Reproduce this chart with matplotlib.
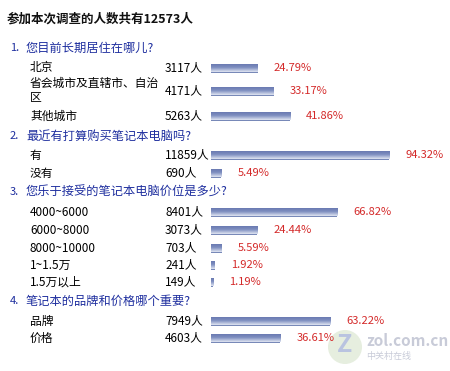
import numpy as np
import matplotlib
matplotlib.use("Agg")
import matplotlib.pyplot as plt
from matplotlib.patches import Circle

plt.rcParams['font.family'] = ['Noto Sans CJK SC', 'DejaVu Sans']

title = "参加本次调查的人数共有12573人"
questions = ["您目前长期居住在哪儿?", "最近有打算购买笔记本电脑吗?",
             "您乐于接受的笔记本电脑价位是多少?", "笔记本的品牌和价格哪个重要?"]
options = [["北京", "省会城市及直辖市、自治\n区", "其他城市"],
           ["有", "没有"],
           ["4000~6000", "6000~8000", "8000~10000", "1~1.5万", "1.5万以上"],
           ["品牌", "价格"]]
counts = [[3117, 4171, 5263], [11859, 690], [8401, 3073, 703, 241, 149], [7949, 4603]]
percents = [[24.79, 33.17, 41.86], [94.32, 5.49], [66.82, 24.44, 5.59, 1.92, 1.19], [63.22, 36.61]]

# layout in pixels (y from top)
q_y = [48, 136, 192, 301]
row_y = [[68, 91, 116], [155, 173], [212, 230, 248, 265, 282], [321, 338]]
bar_x0 = 211
px_per_pct = 1.89

fig = plt.figure(figsize=(4.5, 3.71), dpi=100)
ax = fig.add_axes([0, 0, 1, 1])
ax.set_xlim(0, 450)
ax.set_ylim(371, 0)
ax.axis('off')

# watermark (behind everything)
ax.add_patch(Circle((345, 347), 17, facecolor='#e6eedf', edgecolor='none', zorder=0))
ax.text(345, 345, "Z", fontsize=18, color='#b9c3e0', fontweight='bold',
        ha='center', va='center', zorder=0)
ax.text(366, 341, "zol.com.cn", fontsize=11, color='#c8cbd8', fontweight='bold', va='center', zorder=0)
ax.text(366, 356, "中关村在线", fontsize=6.5, color='#c8cbd8', va='center', zorder=0)

ax.text(7, 19, title, fontsize=9, fontweight='bold', va='center', color='#111111')

grad = np.linspace(0, 1, 50).reshape(-1, 1)
cmap = matplotlib.colors.LinearSegmentedColormap.from_list('bar', ['#6474ad', '#7f8fc0', '#dfe4f1'])

for qi, q in enumerate(questions):
    ax.text(10, q_y[qi], f"{qi + 1}.", fontsize=8, color='#1f2f9f', va='center')
    ax.text(26, q_y[qi], q, fontsize=8.8, color='#1f2f9f', va='center')
    for oi, opt in enumerate(options[qi]):
        y = row_y[qi][oi]
        if "\n" in opt:
            ax.text(30, y - 1, opt, fontsize=8.5, va='center', linespacing=1.1)
        else:
            ax.text(30, y, opt, fontsize=8.5, va='center')
        ax.text(165, y, f"{counts[qi][oi]}人", fontsize=8.5, va='center')
        w = max(percents[qi][oi] * px_per_pct, 2)
        bars = ax.barh(y, w, left=bar_x0, height=9, color='#7889b8', edgecolor='none')
        im = ax.imshow(grad, cmap=cmap, aspect='auto',
                       extent=[bar_x0, bar_x0 + w, y + 4.5, y - 4.5], zorder=2)
        im.set_clip_path(bars[0])
        ax.text(bar_x0 + w + 16, y, f"{percents[qi][oi]:.2f}%", fontsize=8,
                color='#d42a2a', va='center', zorder=3)

ax.set_xlim(0, 450)
ax.set_ylim(371, 0)

fig.savefig("out.png", dpi=100)
